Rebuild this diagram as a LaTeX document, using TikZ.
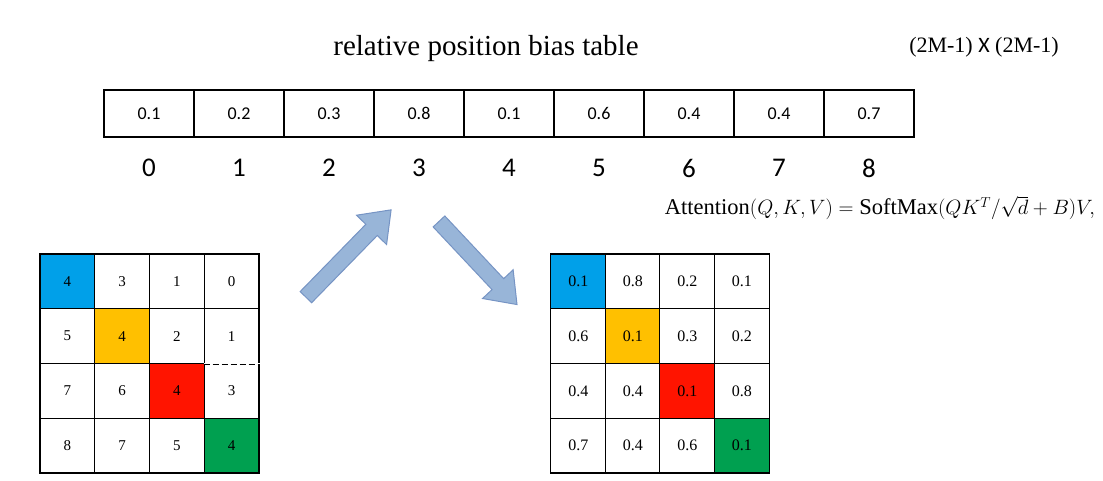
\documentclass[tikz,border=0pt]{standalone}
\usepackage{fontspec}
\setmainfont{Liberation Serif}
\newfontfamily\calibri{Carlito}
\begin{document}
\begin{tikzpicture}[x=1pt, y=-1pt, line width=1.2pt]
	\definecolor{diag0}{RGB}{0, 160, 233}
	\definecolor{diag1}{RGB}{255, 192, 0}
	\definecolor{diag2}{RGB}{255, 20, 0}
	\definecolor{diag3}{RGB}{0, 160, 80}
	\definecolor{arrowfill}{RGB}{152, 181, 216}
	\definecolor{arrowline}{RGB}{118, 148, 196}
	\tikzset{
		biascell/.style={draw, minimum width=90pt, minimum height=47pt, inner sep=0pt, font=\calibri\fontsize{18}{20}\selectfont},
		idxlabel/.style={font=\calibri\fontsize{27}{30}\selectfont},
		matcell/.style={draw, minimum width=54.75pt, minimum height=54.75pt, inner sep=0pt, font=\fontsize{15}{17}\selectfont},
		blockarrow/.style={fill=arrowfill, draw=arrowline, line width=1pt, line join=miter}
	}
	\useasboundingbox (0,0) rectangle (1103,481);

	% 标题
	\node[font=\fontsize{29}{33}\selectfont] (title) at (486,49) {relative position bias table};
	\node[font=\fontsize{22}{25}\selectfont] (tablesize) at (984,47) {(2M-1) {\calibri X} (2M-1)};

	% 偏置表及其索引
	\foreach \v [count=\i from 0] in {0.1,0.2,0.3,0.8,0.1,0.6,0.4,0.4,0.7} {
		\node[biascell] (b\i) at ({149+90*\i},113.5) {\v};
		\node[idxlabel] (idx\i) at ({149+90*\i},168) {\i};
	}

	% 公式
	\node[anchor=west, font=\fontsize{22.5}{26}\selectfont] (attn) at (661,208)
		{Attention$(Q,K,V)={}$SoftMax$(QK^T/\sqrt{d}+B)V,$};

	% 左：相对位置索引
	\foreach \row [count=\r from 0] in {{4,3,1,0},{5,4,2,1},{7,6,4,3},{8,7,5,4}} {
		\foreach \v [count=\c from 0] in \row {
			\edef\cellfill{\ifnum\r=\c diag\r\else white\fi}
			\node[matcell, fill=\cellfill] (l\r\c) at ({40+54.75*(\c+0.5)},{254+54.75*(\r+0.5)}) {\v};
		}
	}
	\draw[white, line width=1.6pt] (l13.south west) -- (l13.south east);
	\draw[dash pattern=on 6pt off 3pt] (l13.south west) -- (l13.south east);

	% 右：查表得到的偏置
	\foreach \row [count=\r from 0] in {{0.1,0.8,0.2,0.1},{0.6,0.1,0.3,0.2},{0.4,0.4,0.1,0.8},{0.7,0.4,0.6,0.1}} {
		\foreach \v [count=\c from 0] in \row {
			\edef\cellfill{\ifnum\r=\c diag\r\else white\fi}
			\node[matcell, fill=\cellfill, font=\fontsize{16}{18}\selectfont] (r\r\c) at ({551+54.5*(\c+0.5)},{254+54.75*(\r+0.5)}) {\v};
		}
	}

	% 箭头
	\foreach \cx/\cy/\ang/\len in {348.5/253.5/45.7/122, 478/263/-46.8/114} {
		\begin{scope}[shift={(\cx,\cy)}, rotate=\ang]
			\draw[blockarrow] ({-\len/2},-8) -- ({\len/2-28},-8) -- ({\len/2-28},-21) -- ({\len/2},0)
				-- ({\len/2-28},21) -- ({\len/2-28},8) -- ({-\len/2},8) -- cycle;
		\end{scope}
	}
\end{tikzpicture}
\end{document}
